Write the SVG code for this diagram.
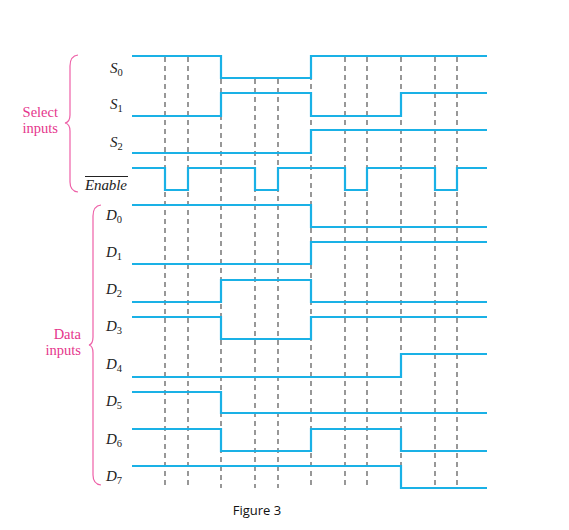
<svg xmlns="http://www.w3.org/2000/svg" width="569" height="530" viewBox="0 0 569 530">
<style>
.w{fill:none;stroke:#1ab1e6;stroke-width:2.2;stroke-linejoin:miter}
.d{stroke:#444;stroke-width:1.1;stroke-dasharray:5 4}
.lb{font-family:"Liberation Serif","DejaVu Serif",serif;font-style:italic;font-size:15px;fill:#222}
.sb{font-style:normal;font-size:10.5px}
.pk{font-family:"Liberation Serif","DejaVu Serif",serif;font-size:14.5px;fill:#e5358c}
.br{fill:none;stroke:#ee5fa7;stroke-width:1.2}
</style>
<rect width="569" height="530" fill="#fff"/>
<g id="grid">
<line class="d" x1="165" y1="57" x2="165" y2="488"/>
<line class="d" x1="188" y1="57" x2="188" y2="488"/>
<line class="d" x1="221" y1="79" x2="221" y2="488"/>
<line class="d" x1="255" y1="79" x2="255" y2="488"/>
<line class="d" x1="278" y1="79" x2="278" y2="488"/>
<line class="d" x1="311" y1="57" x2="311" y2="488"/>
<line class="d" x1="345" y1="57" x2="345" y2="488"/>
<line class="d" x1="367" y1="57" x2="367" y2="488"/>
<line class="d" x1="401" y1="57" x2="401" y2="488"/>
<line class="d" x1="435" y1="57" x2="435" y2="488"/>
<line class="d" x1="457" y1="57" x2="457" y2="488"/>
</g>
<g id="waves">
<path id="w-s0" class="w" d="M132,56H221V78H311V56H487"/>
<path id="w-s1" class="w" d="M132,116H221V93H311V116H401V93H487"/>
<path id="w-s2" class="w" d="M132,153H311V130H487"/>
<path id="w-en" class="w" d="M132,168H165V190H188V168H255V190H278V168H345V190H367V168H435V190H457V168H487"/>
<path id="w-d0" class="w" d="M132,205H311V227H487"/>
<path id="w-d1" class="w" d="M132,264H311V242H487"/>
<path id="w-d2" class="w" d="M132,302H221V280H311V302H487"/>
<path id="w-d3" class="w" d="M132,317H221V339H311V317H487"/>
<path id="w-d4" class="w" d="M132,377H401V354H487"/>
<path id="w-d5" class="w" d="M132,392H221V413H487"/>
<path id="w-d6" class="w" d="M132,429H221V451H311V429H401V451H487"/>
<path id="w-d7" class="w" d="M132,466H401V488H487"/>
</g>
<g id="labels">
<text class="lb" x="110" y="73">S<tspan class="sb" dy="3">0</tspan></text>
<text class="lb" x="110" y="109">S<tspan class="sb" dy="3">1</tspan></text>
<text class="lb" x="110" y="147">S<tspan class="sb" dy="3">2</tspan></text>
<text class="lb" x="85" y="190" textLength="42">Enable</text>
<line x1="85" y1="176.5" x2="128" y2="176.5" stroke="#222" stroke-width="1"/>
<text class="lb" x="106" y="220">D<tspan class="sb" dy="3">0</tspan></text>
<text class="lb" x="106" y="257">D<tspan class="sb" dy="3">1</tspan></text>
<text class="lb" x="106" y="294">D<tspan class="sb" dy="3">2</tspan></text>
<text class="lb" x="106" y="331">D<tspan class="sb" dy="3">3</tspan></text>
<text class="lb" x="106" y="369">D<tspan class="sb" dy="3">4</tspan></text>
<text class="lb" x="106" y="406">D<tspan class="sb" dy="3">5</tspan></text>
<text class="lb" x="106" y="444">D<tspan class="sb" dy="3">6</tspan></text>
<text class="lb" x="106" y="481">D<tspan class="sb" dy="3">7</tspan></text>
</g>
<g id="select-inputs">
<path class="br" d="M78,55Q70,56 70,66V115Q70,122 65,123Q70,124 70,131V182Q70,191 78,192"/>
<text class="pk" x="58" y="117" text-anchor="end">Select</text>
<text class="pk" x="58" y="133" text-anchor="end">inputs</text>
</g>
<g id="data-inputs">
<path class="br" d="M101,205Q93,206 93,216V337Q93,344 89,345Q93,346 93,353V475Q93,484 101,485"/>
<text class="pk" x="81" y="339" text-anchor="end">Data</text>
<text class="pk" x="81" y="355" text-anchor="end">inputs</text>
</g>
<text x="257" y="515" text-anchor="middle" font-family="'Open Sans','Liberation Sans',sans-serif" font-size="13" fill="#111">Figure 3</text>
</svg>
